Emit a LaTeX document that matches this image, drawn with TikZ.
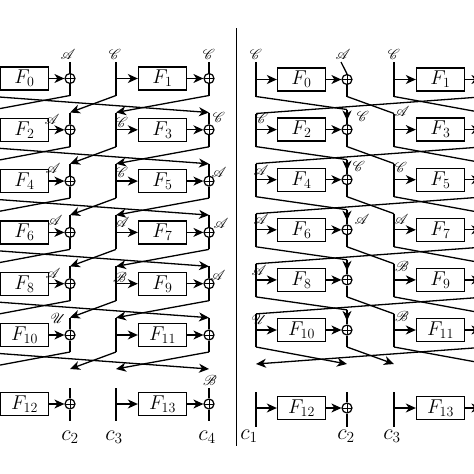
\RequirePackage{fix-cm}
\documentclass[tikz,border=0pt]{standalone}
\usepackage{mathrsfs}
\usetikzlibrary{arrows.meta}
\tikzset{
  ln/.style={line width=1.3pt, black},
  arr/.style={ln, -{Stealth[length=10pt,width=9pt,inset=3pt]}},
  fbox/.style={draw, line width=1.3pt, minimum width=48pt, minimum height=23pt, inner sep=0pt, font=\fontsize{20}{22}\selectfont},
  xor/.style={circle, draw, line width=1.2pt, minimum size=10pt, inner sep=0pt,
    path picture={\draw[line width=1pt] (path picture bounding box.north) -- (path picture bounding box.south) (path picture bounding box.west) -- (path picture bounding box.east);}},
  lab/.style={font=\fontsize{14.4}{16}\selectfont, inner sep=0pt},
  clab/.style={font=\fontsize{22}{24}\selectfont, inner sep=0pt}
}
\begin{document}
\begin{tikzpicture}[x=1pt,y=-1pt]
\useasboundingbox (0,0) rectangle (474,474);
\clip (0,0) rectangle (474,474);
\fill[white] (0,0) rectangle (474,474);

% divider
\coordinate (dtop) at (236.5,28);
\coordinate (dbot) at (236.5,446);
\draw[ln] (dtop) -- (dbot);

% ================= LEFT PANEL =================
\foreach \i in {0,...,6} {
  \pgfmathsetmacro{\y}{\i<6 ? 78.5+51.3*\i : 404}
  \pgfmathsetmacro{\top}{\i==0 ? 62 : (\i<6 ? 78.5+51.3*(\i-1)+34 : 388)}
  \pgfmathsetmacro{\bot}{\i<6 ? \y+17 : 421}
  \pgfmathtruncatemacro{\ea}{2*\i}
  \pgfmathtruncatemacro{\eb}{2*\i+1}
  \node[fbox] (FL\ea) at (24.5,\y) {$F_{\ea}$};
  \node[fbox] (FL\eb) at (162.5,\y) {$F_{\eb}$};
  \node[xor] (XLb\i) at (70,\y) {};
  \node[xor] (XLd\i) at (209,\y) {};
  \coordinate (La\i) at (-21,\y);
  \coordinate (Lc\i) at (116,\y);
  \coordinate (Lat\i) at (-21,\top);
  \coordinate (Lab\i) at (-21,\bot);
  \coordinate (Lbt\i) at (70,\top);
  \coordinate (Lbb\i) at (70,\bot);
  \coordinate (Lct\i) at (116,\top);
  \coordinate (Lcb\i) at (116,\bot);
  \coordinate (Ldt\i) at (209,\top);
  \coordinate (Ldb\i) at (209,\bot);
  \draw[ln] (Lat\i) -- (Lab\i);
  \draw[ln] (Lbt\i) -- (XLb\i.north) (XLb\i.south) -- (Lbb\i);
  \draw[ln] (Lct\i) -- (Lcb\i);
  \draw[ln] (Ldt\i) -- (XLd\i.north) (XLd\i.south) -- (Ldb\i);
  \draw[arr] (La\i) -- (FL\ea.west);
  \draw[arr] (FL\ea.east) -- (XLb\i.west);
  \draw[arr] (Lc\i) -- (FL\eb.west);
  \draw[arr] (FL\eb.east) -- (XLd\i.west);
}
% left crossings
\foreach \i in {0,...,5} {
  \pgfmathsetmacro{\y}{78.5+51.3*\i}
  \coordinate (LPa\i) at (-21,\y+17);
  \coordinate (LPb\i) at (70,\y+17);
  \coordinate (LPc\i) at (116,\y+17);
  \coordinate (LPd\i) at (209,\y+17);
  \coordinate (LQa\i) at (-21,\y+34);
  \coordinate (LQb\i) at (70,\y+34);
  \coordinate (LQc\i) at (116,\y+34);
  \coordinate (LQd\i) at (209,\y+34);
  \draw[arr] (LPb\i) -- (LQa\i);
  \draw[arr] (LPc\i) -- (LQb\i);
  \draw[arr] (LPd\i) -- (LQc\i);
  \draw[arr] (LPa\i) -- (LQd\i);
}

% left labels
\node[lab] (la0) at (68,54) {$\mathscr{A}$};
\node[lab] (la1) at (115,54) {$\mathscr{C}$};
\node[lab] (la2) at (209,54) {$\mathscr{C}$};
\node[lab] (la3) at (52,119) {$\mathscr{A}$};
\node[lab] (la4) at (122,122) {$\mathscr{C}$};
\node[lab] (la5) at (219,117) {$\mathscr{C}$};
\node[lab] (la6) at (53,168) {$\mathscr{A}$};
\node[lab] (la7) at (122,172) {$\mathscr{C}$};
\node[lab] (la8) at (219,172) {$\mathscr{A}$};
\node[lab] (la9) at (55,220) {$\mathscr{A}$};
\node[lab] (la10) at (122,222) {$\mathscr{A}$};
\node[lab] (la11) at (221,223) {$\mathscr{A}$};
\node[lab] (la12) at (53,273) {$\mathscr{A}$};
\node[lab] (la13) at (120,277) {$\mathscr{B}$};
\node[lab] (la14) at (218,275) {$\mathscr{A}$};
\node[lab] (la15) at (58,318) {$\mathscr{U}$};
\node[lab] (la16) at (210,380) {$\mathscr{B}$};
\node[clab] (lc2) at (70,437) {$c_2$};
\node[clab] (lc3) at (114,437) {$c_3$};
\node[clab] (lc4) at (207,437) {$c_4$};

% ================= RIGHT PANEL =================
\foreach \i in {0,...,6} {
  \pgfmathsetmacro{\y}{\i<6 ? 79.5+50.1*\i : 408}
  \pgfmathsetmacro{\top}{\i==0 ? 62 : (\i<6 ? 79.5+50.1*(\i-1)+34 : 392)}
  \pgfmathsetmacro{\btop}{\i<6 ? 79.5+50.1*(\i-1)+31 : 392}
  \pgfmathsetmacro{\bot}{\i<6 ? \y+17 : 427}
  \pgfmathtruncatemacro{\ea}{2*\i}
  \pgfmathtruncatemacro{\eb}{2*\i+1}
  \node[fbox] (FR\ea) at (301.5,\y) {$F_{\ea}$};
  \node[fbox] (FR\eb) at (440.5,\y) {$F_{\eb}$};
  \node[xor] (XRb\i) at (347,\y) {};
  \node[xor] (XRd\i) at (487,\y) {};
  \coordinate (Ra\i) at (256,\y);
  \coordinate (Rc\i) at (394,\y);
  \coordinate (Rat\i) at (256,\top);
  \coordinate (Rab\i) at (256,\bot);
  \coordinate (Rbt\i) at (347,\btop);
  \coordinate (Rbb\i) at (347,\bot);
  \coordinate (Rct\i) at (394,\top);
  \coordinate (Rcb\i) at (394,\bot);
  \draw[ln] (Rat\i) -- (Rab\i);
  \draw[ln] (XRb\i.south) -- (Rbb\i);
  \draw[ln] (Rct\i) -- (Rcb\i);
  \draw[arr] (Ra\i) -- (FR\ea.west);
  \draw[arr] (FR\ea.east) -- (XRb\i.west);
  \draw[arr] (Rc\i) -- (FR\eb.west);
  \draw[arr] (FR\eb.east) -- (XRd\i.west);
}
\foreach \i in {1,...,5} {
  \draw[ln] (Rbt\i) -- (XRb\i.north);
}
\draw[ln] (Rbt6) -- (XRb6.north);
\coordinate (Rlab) at (341,62);
\draw[ln] (Rlab) -- (XRb0.north);

% right crossings
\foreach \i in {0,...,5} {
  \pgfmathsetmacro{\y}{79.5+50.1*\i}
  \coordinate (RPa\i) at (256,\y+17);
  \coordinate (RPb\i) at (347,\y+17);
  \coordinate (RPc\i) at (394,\y+17);
  \coordinate (RPd\i) at (487,\y+17);
  \coordinate (RQa\i) at (256,\y+34);
  \coordinate (RQb\i) at (347,\y+34);
  \coordinate (RQc\i) at (394,\y+34);
  \coordinate (RQd\i) at (487,\y+34);
  \coordinate (RVb\i) at (347,\y+30);
  \coordinate (RVt\i) at (347,\y+41);
  \draw[ln] (RPc\i) -- (RQd\i);
}
\foreach \i in {0,...,4} {
  \draw[ln] (RPa\i) -- (RVb\i);
  \draw[arr] (RVb\i) -- (RVt\i);
  \draw[ln] (RPb\i) -- (RQc\i);
  \draw[ln] (RPd\i) -- (RQa\i);
}
\draw[arr] (RPa5) -- (RQb5);
\draw[arr] (RPb5) -- (RQc5);
\draw[arr] (RPd5) -- (RQa5);

% right labels
\node[lab] (ra0) at (256,54) {$\mathscr{C}$};
\node[lab] (ra1) at (343,54) {$\mathscr{A}$};
\node[lab] (ra2) at (394,54) {$\mathscr{C}$};
\node[lab] (ra3) at (262,118) {$\mathscr{C}$};
\node[lab] (ra4) at (363,116) {$\mathscr{C}$};
\node[lab] (ra5) at (402,111) {$\mathscr{A}$};
\node[lab] (ra6) at (261,170) {$\mathscr{A}$};
\node[lab] (ra7) at (359,166) {$\mathscr{C}$};
\node[lab] (ra8) at (401,167) {$\mathscr{C}$};
\node[lab] (ra9) at (261,219) {$\mathscr{A}$};
\node[lab] (ra10) at (362,219) {$\mathscr{A}$};
\node[lab] (ra11) at (401,219) {$\mathscr{A}$};
\node[lab] (ra12) at (259,270) {$\mathscr{A}$};
\node[lab] (ra13) at (402,266) {$\mathscr{B}$};
\node[lab] (ra14) at (259,319) {$\mathscr{U}$};
\node[lab] (ra15) at (402,316) {$\mathscr{B}$};
\node[clab] (rc1) at (249,436) {$c_1$};
\node[clab] (rc2) at (346,436) {$c_2$};
\node[clab] (rc3) at (392,436) {$c_3$};
\end{tikzpicture}
\end{document}
